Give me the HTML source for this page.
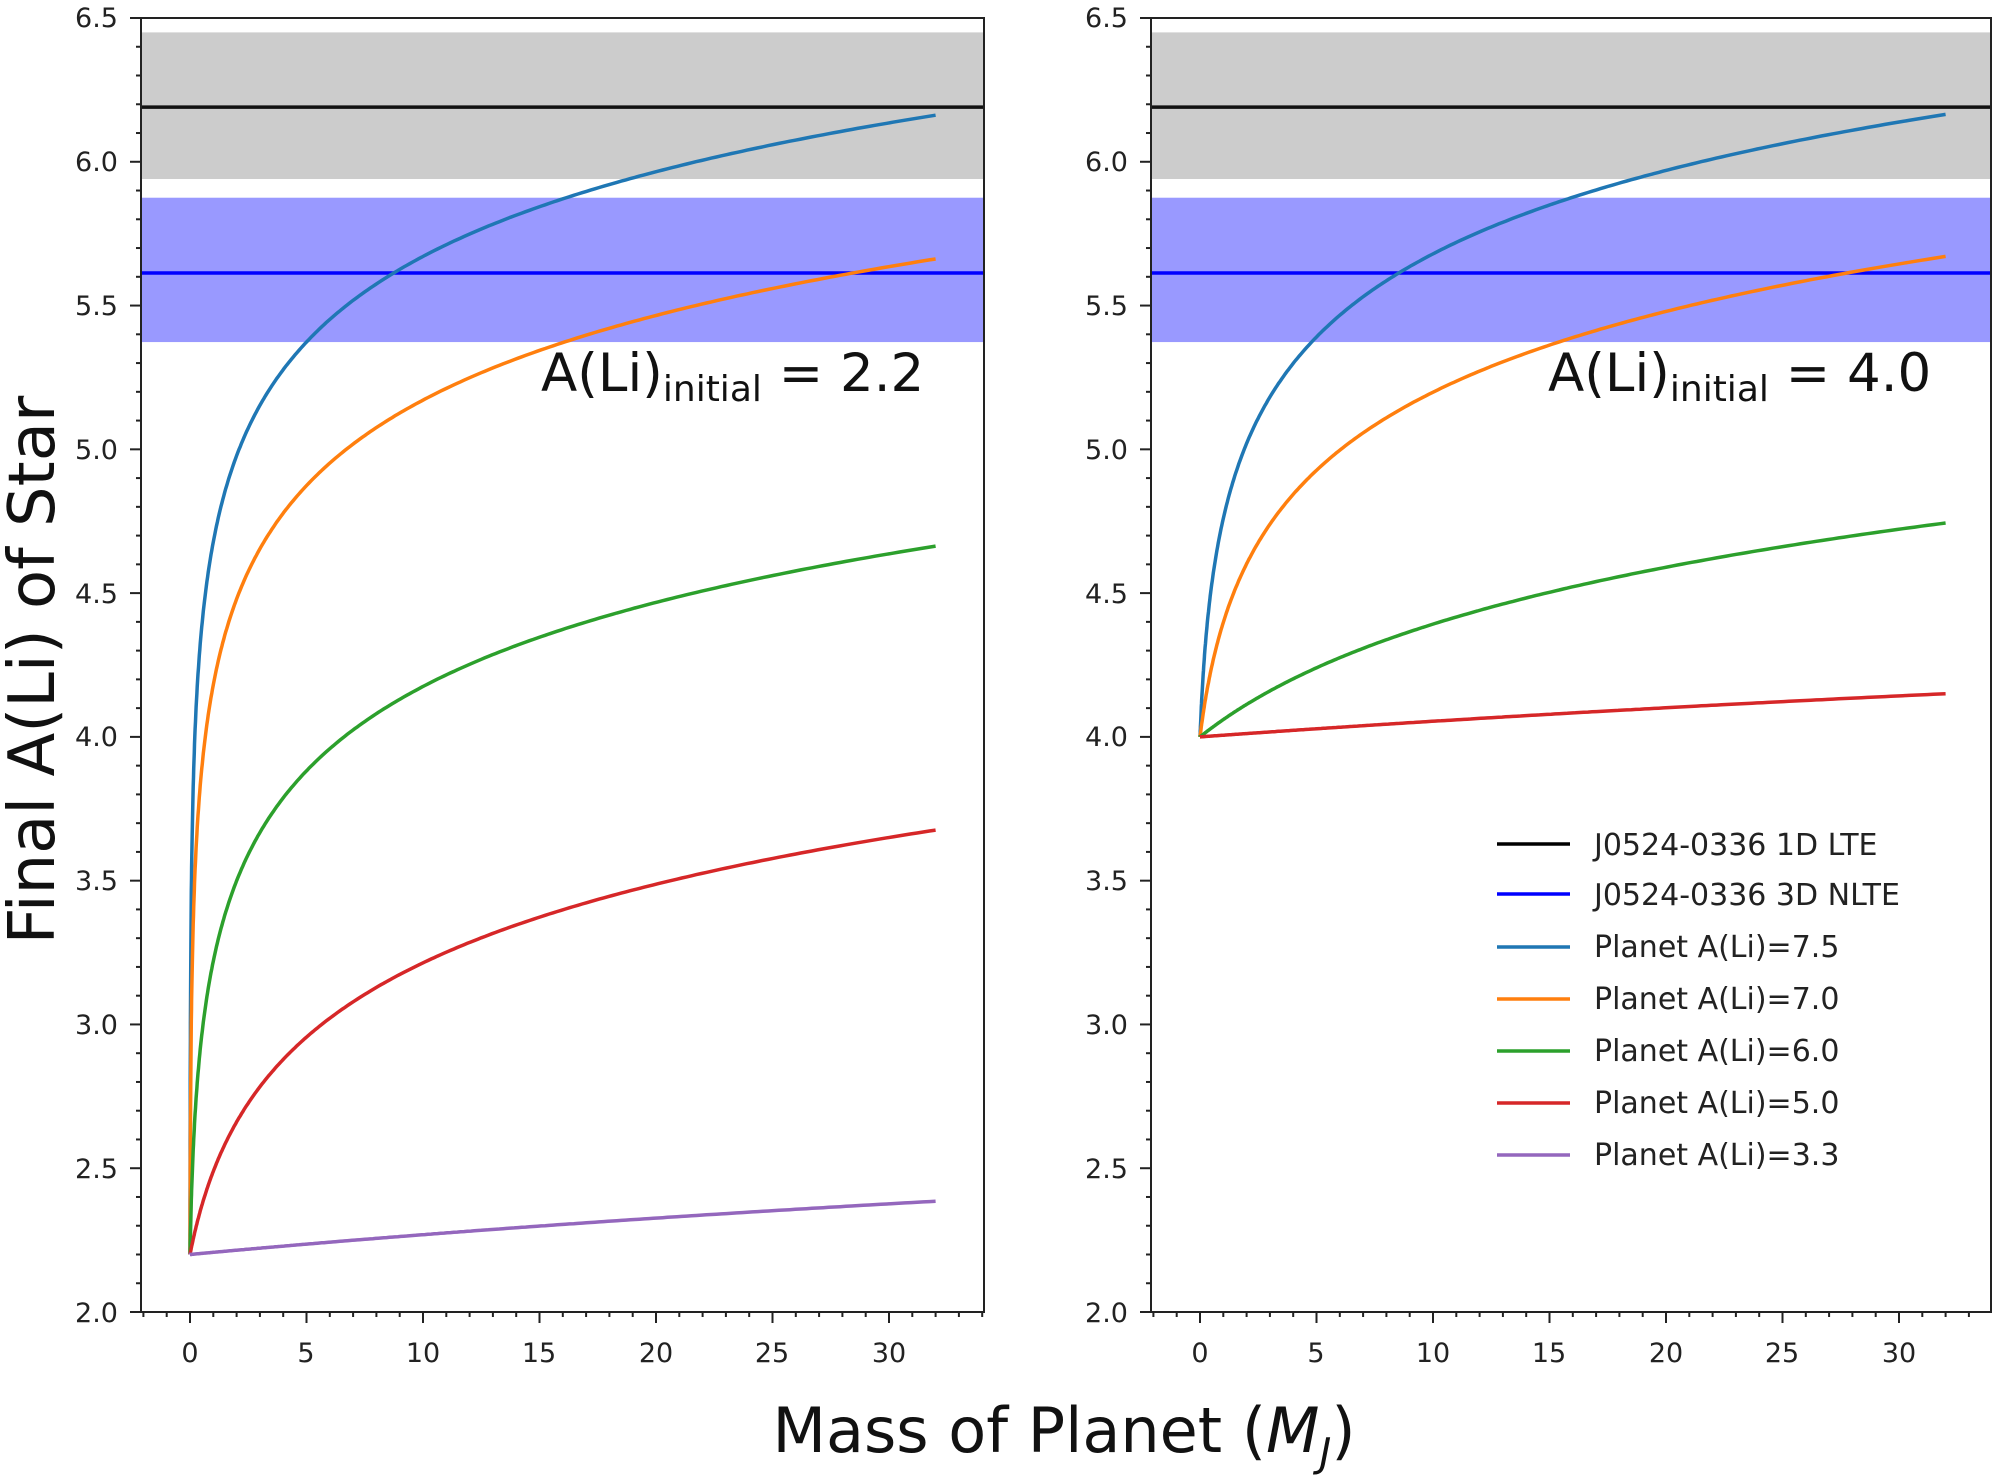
<!DOCTYPE html>
<html><head><meta charset="utf-8"><style>
body{margin:0;background:#fff;}
svg{display:block;font-family:"DejaVu Sans","Liberation Sans",sans-serif;}
</style></head><body>
<svg id="s" width="1998" height="1477" viewBox="0 0 1998 1477" xmlns="http://www.w3.org/2000/svg">
<g id="g"></g>
<text x="0" y="0" transform="translate(54,670) rotate(-90)" font-size="64" text-anchor="middle" fill="#111">Final A(Li) of Star</text>
<text x="1064" y="1452" font-size="62" text-anchor="middle" fill="#111">Mass of Planet (<tspan font-style="italic">M</tspan><tspan font-style="italic" font-size="40" dy="14">J</tspan><tspan dy="-14">)</tspan></text>
<text x="541" y="391" font-size="53" fill="#111">A(Li)<tspan font-size="36" dy="10">initial</tspan><tspan dy="-10"> = 2.2</tspan></text>
<text x="1548" y="391" font-size="53" fill="#111">A(Li)<tspan font-size="36" dy="10">initial</tspan><tspan dy="-10"> = 4.0</tspan></text>
<g font-size="30" fill="#222">
<text x="1594" y="855">J0524-0336 1D LTE</text>
<text x="1594" y="905">J0524-0336 3D NLTE</text>
<text x="1594" y="957">Planet A(Li)=7.5</text>
<text x="1594" y="1009">Planet A(Li)=7.0</text>
<text x="1594" y="1061">Planet A(Li)=6.0</text>
<text x="1594" y="1113">Planet A(Li)=5.0</text>
<text x="1594" y="1165">Planet A(Li)=3.3</text>
</g>
<g font-size="27" fill="#222" text-anchor="middle">
<text x="190" y="1362">0</text><text x="306" y="1362">5</text><text x="423" y="1362">10</text><text x="539" y="1362">15</text><text x="656" y="1362">20</text><text x="772" y="1362">25</text><text x="889" y="1362">30</text>
<text x="1200" y="1362">0</text><text x="1316" y="1362">5</text><text x="1433" y="1362">10</text><text x="1549" y="1362">15</text><text x="1666" y="1362">20</text><text x="1782" y="1362">25</text><text x="1899" y="1362">30</text>
</g>
<g font-size="27" fill="#222" text-anchor="end">
<text x="118" y="27">6.5</text><text x="118" y="171">6.0</text><text x="118" y="315">5.5</text><text x="118" y="459">5.0</text><text x="118" y="603">4.5</text><text x="118" y="746">4.0</text><text x="118" y="890">3.5</text><text x="118" y="1034">3.0</text><text x="118" y="1178">2.5</text><text x="118" y="1322">2.0</text>
<text x="1128" y="27">6.5</text><text x="1128" y="171">6.0</text><text x="1128" y="315">5.5</text><text x="1128" y="459">5.0</text><text x="1128" y="603">4.5</text><text x="1128" y="746">4.0</text><text x="1128" y="890">3.5</text><text x="1128" y="1034">3.0</text><text x="1128" y="1178">2.5</text><text x="1128" y="1322">2.0</text>
</g>
</svg>
<script>
(function(){
var NS='http://www.w3.org/2000/svg';
var g=document.getElementById('g');
var T=18,B=1312,ys=(B-T)/4.5,xs=23.3;
function Y(v){return T+(6.5-v)*ys;}
function el(n,a){var e=document.createElementNS(NS,n);for(var k in a)e.setAttribute(k,a[k]);g.appendChild(e);}
var legC=['#000','#0000ff','#1f77b4','#ff7f0e','#2ca02c','#d62728','#9467bd'];
[[141,984,190,2.2],[1151,1991,1200,4.0]].forEach(function(p){
 var L=p[0],R=p[1],x0=p[2],A0=p[3];
 el('rect',{x:L,y:Y(6.45),width:R-L,height:Y(5.94)-Y(6.45),fill:'#cccccc'});
 el('rect',{x:L,y:Y(5.875),width:R-L,height:Y(5.373)-Y(5.875),fill:'#9999ff'});
 el('line',{x1:L,x2:R,y1:Y(6.19),y2:Y(6.19),stroke:'#111','stroke-width':3.5});
 el('line',{x1:L,x2:R,y1:Y(5.613),y2:Y(5.613),stroke:'#0000ff','stroke-width':3.5});
 var aps=[7.5,7,6,5,3.3],cols=['#1f77b4','#ff7f0e','#2ca02c','#d62728','#9467bd'];
 aps.forEach(function(ap,i){
  if(A0==4&&ap<4)return;
  var d='';
  for(var k=0;k<=300;k++){var m=32*Math.pow(k/300,2.5);
   var f=m/(m+665);var v=Math.log10(Math.pow(10,A0)*(1-f)+Math.pow(10,ap)*f);
   d+=(k?'L':'M')+(x0+m*xs).toFixed(1)+','+Y(v).toFixed(1);}
  el('path',{d:d,fill:'none',stroke:cols[i],'stroke-width':3.5});
 });
 el('rect',{x:L,y:T,width:R-L,height:B-T,fill:'none',stroke:'#222','stroke-width':2});
 for(var t=-2;t<=34;t++){var x=x0+t*xs;if(x<L||x>R)continue;var ln=(t%5==0)?11:5;
  el('line',{x1:x,x2:x,y1:B,y2:B+ln,stroke:'#222','stroke-width':2});}
 for(var t=0;t<=45;t++){var y=T+t*ys/10;var ln=(t%5==0)?11:5;
  el('line',{x1:L-ln,x2:L,y1:y,y2:y,stroke:'#222','stroke-width':2});}
});
[844,894,947,999,1051,1103,1155].forEach(function(y,i){el('line',{x1:1497,x2:1570,y1:y,y2:y,stroke:legC[i],'stroke-width':3.5});});
})();
</script>
</body></html>
